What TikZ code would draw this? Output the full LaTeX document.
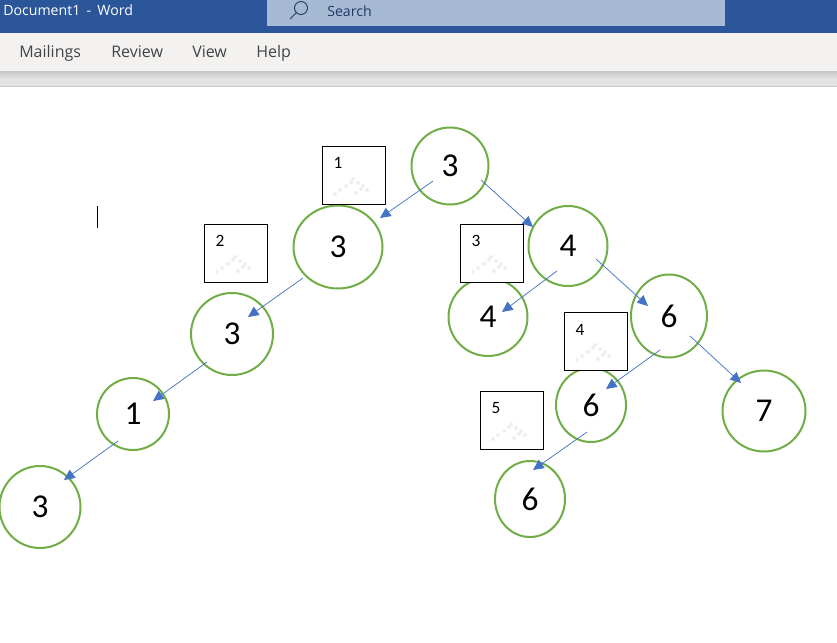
\documentclass[tikz,border=0pt]{standalone}
\usepackage{fontspec}
\setmainfont{Carlito}
\newfontfamily\uifont{Open Sans}
\usetikzlibrary{shapes.geometric,arrows.meta}
\definecolor{wordblue}{HTML}{2B579A}
\definecolor{searchblue}{HTML}{A6BAD3}
\definecolor{searchtext}{HTML}{1F3864}
\definecolor{ribbongray}{HTML}{F3F2F1}
\definecolor{uitext}{HTML}{444444}
\definecolor{treegreen}{HTML}{70AD47}
\definecolor{linkblue}{HTML}{4472C4}
\definecolor{paledot}{HTML}{EEF0EC}
\tikzset{
  treenode/.style={ellipse, draw=treegreen, line width=1.5pt, inner sep=0pt, font=\fontsize{25}{25}\selectfont},
  link/.style={linkblue, line width=0.55pt, -{Triangle[length=8pt,width=7.5pt]}},
  framebox/.style={draw=black, fill=white, line width=0.75pt, minimum width=47.25pt, minimum height=43.5pt, inner sep=0pt},
  boxnum/.style={inner sep=0pt, font=\fontsize{13}{13}\selectfont},
  titletext/.style={anchor=base west, inner sep=0pt, white, font=\uifont\fontsize{10.6}{10.6}\selectfont},
  tabtext/.style={anchor=base west, inner sep=0pt, uitext, font=\uifont\fontsize{12}{12}\selectfont},
  tinytree/.pic={
    \fill[paledot] (-19,19) circle (2) (-14,15) circle (2) (-8,11) circle (2) (-3,7) circle (2) (-1,4) circle (2)
      (4,8) circle (2) (9,11) circle (2) (13,15) circle (2) (7,14) circle (2) (2,18) circle (2);
  }
}
\begin{document}
\begin{tikzpicture}[x=0.75pt,y=-0.75pt]
\useasboundingbox (0,0) rectangle (837,642);
\fill[wordblue] (0,0) rectangle (837,33);
\fill[searchblue] (267,0) rectangle (725,26);
\fill[ribbongray] (0,33) rectangle (837,71);
\shade[top color=black!22, bottom color=black!11] (0,71) rectangle (837,79);
\fill[black!11] (0,79) rectangle (837,86);
\draw[black!22, line width=0.75pt] (0,86.5) -- (837,86.5);
\draw[searchtext, line width=0.7pt] (301,8) circle (6.5) (296,13) -- (290,19);
\draw[black, line width=0.75pt] (97.5,206) -- (97.5,228);

\node[titletext] (title) at (3,16) {Document1\;\,-\;\,Word};
\node[titletext, text=searchtext] (search) at (327,17) {Search};
\node[tabtext] (mailings) at (19,58) {Mailings};
\node[tabtext] (review) at (111,58) {Review};
\node[tabtext] (view) at (192,58) {View};
\node[tabtext] (help) at (256,58) {Help};

\node[treenode, minimum width=57.75pt, minimum height=57.75pt] (root) at (450,166) {3};
\node[treenode, minimum width=66.75pt, minimum height=62.25pt] (leftA) at (338,247) {3};
\node[treenode, minimum width=61.5pt, minimum height=61.5pt] (leftB) at (232,334) {3};
\node[treenode, minimum width=54pt, minimum height=54pt] (leftC) at (133,414) {1};
\node[treenode, minimum width=60.75pt, minimum height=61.5pt] (leftD) at (40,507) {3};
\node[treenode, minimum width=59.25pt, minimum height=60pt] (rightA) at (568,246) {4};
\node[treenode, minimum width=59.25pt, minimum height=58.5pt] (rightB) at (488,317) {4};
\node[treenode, minimum width=57pt, minimum height=62.25pt] (rightC) at (669,316) {6};
\node[treenode, minimum width=52.5pt, minimum height=55.5pt] (rightD) at (591,405) {6};
\node[treenode, minimum width=62.25pt, minimum height=60.75pt] (rightE) at (764,411) {7};
\node[treenode, minimum width=52.5pt, minimum height=57pt] (rightF) at (530,499) {6};

\draw[link] ([shift={(-17,15)}]root.center) -- ([shift={(42,-29)}]leftA.center);
\draw[link] ([shift={(31,14)}]root.center) -- ([shift={(-35,-19)}]rightA.center);
\draw[link] ([shift={(-35,31)}]leftA.center) -- ([shift={(16,-17)}]leftB.center);
\draw[link] ([shift={(-25,28)}]leftB.center) -- ([shift={(20,-13)}]leftC.center);
\draw[link] ([shift={(-15,27)}]leftC.center) -- ([shift={(24,-27)}]leftD.center);
\draw[link] ([shift={(-11,25)}]rightA.center) -- ([shift={(14,-5)}]rightB.center);
\draw[link] ([shift={(28,13)}]rightA.center) -- ([shift={(-21,-10)}]rightC.center);
\draw[link] ([shift={(-9,34)}]rightC.center) -- ([shift={(15,-16)}]rightD.center);
\draw[link] ([shift={(21,20)}]rightC.center) -- ([shift={(-23,-28)}]rightE.center);
\draw[link] ([shift={(-4,27)}]rightD.center) -- ([shift={(3,-29)}]rightF.center);

\node[framebox] (boxA) at (354,175) {};
\node[framebox] (boxB) at (236,253) {};
\node[framebox] (boxC) at (492,253) {};
\node[framebox] (boxD) at (596,341) {};
\node[framebox] (boxE) at (512,420) {};
\node[boxnum] (numA) at (338,163) {1};
\node[boxnum] (numB) at (220,241) {2};
\node[boxnum] (numC) at (476,241) {3};
\node[boxnum] (numD) at (580,330) {4};
\node[boxnum] (numE) at (496,408) {5};
\pic at (boxA.center) {tinytree};
\pic at (boxB.center) {tinytree};
\pic at (boxC.center) {tinytree};
\pic at (boxD.center) {tinytree};
\pic at (boxE.center) {tinytree};
\end{tikzpicture}
\end{document}
